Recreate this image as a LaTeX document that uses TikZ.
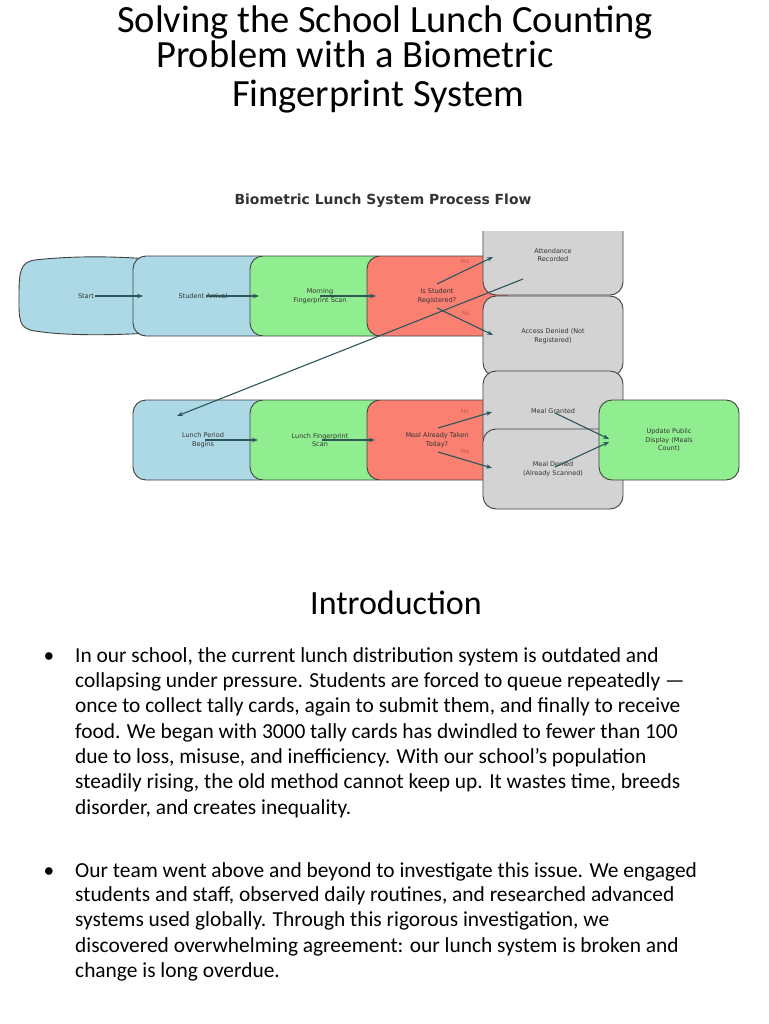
\documentclass[tikz,border=0pt]{standalone}
\usepackage{fontspec}
\setmainfont{Carlito}
\newfontfamily\dvs{DejaVu Sans}
\usetikzlibrary{calc,arrows.meta}
\definecolor{lb}{HTML}{ADD8E6}
\definecolor{lg}{HTML}{90EE90}
\definecolor{sal}{HTML}{FA8072}
\definecolor{lgr}{HTML}{D3D3D3}
\definecolor{arrc}{RGB}{45,85,90}
\definecolor{lblc}{RGB}{200,90,80}
\begin{document}
\begin{tikzpicture}[x=1pt,y=-1pt,
  box/.style={draw=black!75, line width=0.9pt, rounded corners=13pt, minimum width=140pt, minimum height=80pt,
    align=center, font=\dvs\fontsize{6.5}{8.6}\selectfont, text=black!80, inner sep=0pt},
  arr/.style={-{Stealth[length=6pt,width=4.5pt]}, draw=arrc, line width=1.1pt},
  yn/.style={font=\dvs\fontsize{6}{6}\selectfont, text=lblc, inner sep=0pt},
  title/.style={font=\fontsize{38.5}{42}\selectfont, anchor=base west, inner sep=0pt},
  body/.style={font=\fontsize{21.4}{25}\selectfont, anchor=base west, inner sep=0pt},
  bul/.style={font=\fontsize{21.4}{25}\selectfont, anchor=base, inner sep=0pt}]
\useasboundingbox[fill=white] (0,0) rectangle (768,1024);

% Title
\node[title] (t1) at (117,33) {Solving the School Lunch Counting};
\node[title] (t2) at (156,68) {Problem with a Biometric};
\node[title] (t3) at (232,107) {Fingerprint System};

% Diagram title
\node[font=\dvs\bfseries\fontsize{13.9}{15}\selectfont, text=black!80] (dt) at (383,201) {Biometric Lunch System Process Flow};

% Start blob
\draw[fill=lb, draw=black!75, line width=0.9pt]
  (35,260) .. controls (70,256) and (110,256) .. (150,259) -- (150,333)
  .. controls (100,336) and (60,335) .. (35,331)
  .. controls (18,329) and (19,318) .. (19,296)
  .. controls (19,272) and (20,262) .. (35,260) -- cycle;
\node[font=\dvs\fontsize{6.5}{8.6}\selectfont, text=black!80] (start) at (86,296) {Start};

\node[box, fill=lb] (arrival) at (203,296) {Student Arrival};
\node[box, fill=lg] (morning) at (320,296) {Morning\\Fingerprint Scan};
\node[box, fill=sal] (reg) at (437,296) {Is Student\\Registered?};
\begin{scope}
\clip (400,232) rectangle (700,300);
\node[box, fill=lgr] (att) at (553,255) {Attendance\\Recorded};
\end{scope}
\node[box, fill=lgr] (denied) at (553,336) {Access Denied (Not\\Registered)};

\node[box, fill=lb] (lunch) at (203,440) {Lunch Period\\Begins};
\node[box, fill=lg] (lfs) at (320,440) {Lunch Fingerprint\\Scan};
\node[box, fill=sal] (meal) at (437,440) {Meal Already Taken\\Today?};
\node[box, fill=lgr] (granted) at (553,411) {Meal Granted};
\node[box, fill=lgr] (mden) at (553,469) {Meal Denied\\(Already Scanned)};
\node[box, fill=lg] (upd) at (669,440) {Update Public\\Display (Meals\\Count)};

% Labels
\node[yn] (yes1) at (465,261) {Yes};
\node[yn] (no1) at (466,313) {No};
\node[yn] (no2) at (465,411) {No};
\node[yn] (yes2) at (465,451) {Yes};

% Arrows
\draw[arr] ($(start)+(9,0)$) -- ($(arrival)+(-60,0)$);
\draw[arr] ($(arrival)+(3,0)$) -- ($(morning)+(-61,0)$);
\draw[arr] ($(morning)+(0,0)$) -- ($(reg)+(-61,0)$);
\draw[arr] ($(reg)+(0,-12)$) -- ($(att)+(-60,2)$);
\draw[arr] ($(reg)+(0,12)$) -- ($(denied)+(-60,-1)$);
\draw[arr] ($(att)+(-30,24)$) -- ($(lunch)+(-26,-24)$);
\draw[arr] ($(lunch)+(2,0)$) -- ($(lfs)+(-62,0)$);
\draw[arr] ($(lfs)+(2,0)$) -- ($(meal)+(-62,0)$);
\draw[arr] ($(meal)+(1,-12)$) -- ($(granted)+(-61,1)$);
\draw[arr] ($(meal)+(1,12)$) -- ($(mden)+(-61,-1)$);
\draw[arr] ($(granted)+(2,2)$) -- ($(upd)+(-60,-1)$);
\draw[arr] ($(mden)+(2,-2)$) -- ($(upd)+(-60,2)$);

% Introduction
\node[font=\fontsize{34}{38}\selectfont, anchor=base west, inner sep=0pt] (intro) at (310,614) {Introduction};

\node[bul] (b1) at (49,662) {•};
\node[body] (l1) at (75,662) {In our school, the current lunch distribution system is outdated and};
\node[body] (l2) at (75,687) {collapsing under pressure. Students are forced to queue repeatedly —};
\node[body] (l3) at (75,712) {once to collect tally cards, again to submit them, and finally to receive};
\node[body] (l4) at (75,738) {food. We began with 3000 tally cards has dwindled to fewer than 100};
\node[body] (l5) at (75,763) {due to loss, misuse, and inefficiency. With our school’s population};
\node[body] (l6) at (75,788) {steadily rising, the old method cannot keep up. It wastes time, breeds};
\node[body] (l7) at (75,814) {disorder, and creates inequality.};

\node[bul] (b2) at (49,877) {•};
\node[body] (m1) at (75,877) {Our team went above and beyond to investigate this issue. We engaged};
\node[body] (m2) at (75,901) {students and staff, observed daily routines, and researched advanced};
\node[body] (m3) at (75,926) {systems used globally. Through this rigorous investigation, we};
\node[body] (m4) at (75,952) {discovered overwhelming agreement: our lunch system is broken and};
\node[body] (m5) at (75,977) {change is long overdue.};
\end{tikzpicture}
\end{document}
